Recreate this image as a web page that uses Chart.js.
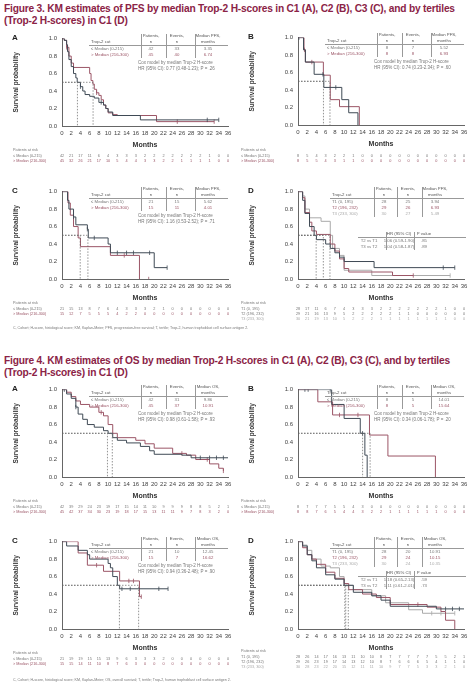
<!DOCTYPE html>
<html><head><meta charset="utf-8">
<script src="https://cdn.jsdelivr.net/npm/chart.js@4/dist/chart.umd.min.js"></script>
<style>
body{margin:0;width:474px;height:685px;position:relative;background:#fff;font-family:Arial,"Liberation Sans",sans-serif;overflow:hidden}
.t{position:absolute;white-space:nowrap;line-height:1}
canvas{position:absolute}
.ln{position:absolute;background:#999}
</style></head><body>
<script>
const DARK='#3f4a55', MAR='#9b5566', LIGHT='#aaaaaa', TXT='#777';
const ticksX=[0,2,4,6,8,10,12,14,16,18,20,22,24,26,28,30,32,34,36];

// ---- Figure 3 (PFS) ----
const f3a_lo_t=[0.5,1,1.2,1.5,2,2.5,3,3.3,4,4.5,5,6,7,8,9,9.5,10,11,17,34];
const f3a_lo_s=[0.98,0.93,0.85,0.76,0.68,0.6,0.55,0.5,0.45,0.4,0.36,0.34,0.32,0.27,0.24,0.2,0.16,0.12,0.07,0.07];
const f3a_lo_c=[4,8.5,31.5,34];
const f3a_hi_t=[0.5,1,1.5,2,2.5,6,6.3,6.7,7,7.5,8,8.5,9,9.5,10,11,12,20.5,33];
const f3a_hi_s=[0.98,0.9,0.8,0.72,0.67,0.6,0.52,0.48,0.42,0.38,0.35,0.3,0.24,0.2,0.15,0.13,0.12,0.05,0.05];
const f3a_hi_c=[1,7.5,25,33];
const f3a_risk_lo=[42,21,17,11,6,4,3,3,3,2,2,2,2,2,2,2,1,0,0];
const f3a_risk_hi=[45,32,26,21,17,10,5,4,4,3,3,2,2,1,1,1,1,0,0];

const f3b_lo_t=[1.2,1.6,3.5,5.6,9.5,11,13];
const f3b_lo_s=[0.86,0.72,0.58,0.43,0.29,0.14,0];
const f3b_lo_c=[0.2,5.4,8.2];
const f3b_hi_t=[1.3,1.6,5.5,7,9,13.3];
const f3b_hi_s=[0.86,0.72,0.57,0.29,0.21,0];
const f3b_hi_c=[1.4,3];
const f3b_risk_lo=[8,5,4,3,2,2,1,0,0,0,0,0,0,0,0,0,0,0,0];
const f3b_risk_hi=[8,5,5,4,3,1,1,0,0,0,0,0,0,0,0,0,0,0,0];

const f3c_lo_t=[1.2,1.5,2.5,3,5.5,5.7,10,10.5,20,22.8];
const f3c_lo_s=[0.9,0.8,0.71,0.62,0.57,0.47,0.4,0.3,0.13,0.13];
const f3c_lo_c=[2.5,5.5,7,12,14,15.5,19,22.8];
const f3c_hi_t=[1.3,1.8,2.5,3.5,4,10.5,16.8];
const f3c_hi_s=[0.87,0.73,0.6,0.47,0.37,0.27,0];
const f3c_hi_c=[13.5,18.8];
const f3c_risk_lo=[21,15,13,8,7,6,4,3,3,3,2,1,0,0,0,0,0,0,0];
const f3c_risk_hi=[15,12,7,5,5,5,4,2,2,0,0,0,0,0,0,0,0,0,0];

const f3d_t1_t=[1,1.5,2.5,3.5,4,6,7,8,9,10,16.5,34];
const f3d_t1_s=[0.9,0.75,0.6,0.5,0.45,0.4,0.35,0.3,0.25,0.2,0.13,0.13];
const f3d_t1_c=[31.5,34];
const f3d_t2_t=[1,1.5,2.5,3,4,7,8,9,10,11,20.5,25];
const f3d_t2_s=[0.93,0.76,0.65,0.55,0.51,0.4,0.32,0.23,0.12,0.08,0.04,0.04];
const f3d_t2_c=[25];
const f3d_t3_t=[1,1.5,2.5,5,7,7.5,9,10,16,33];
const f3d_t3_s=[0.95,0.8,0.7,0.66,0.5,0.35,0.27,0.1,0.04,0.04];
const f3d_t3_c=[33];
const f3d_risk_t1=[28,17,11,6,7,4,3,3,3,2,2,2,2,2,2,2,1,0,0];
const f3d_risk_t2=[29,21,16,13,9,5,2,2,2,2,2,1,1,0,0,0,0,0,0];
const f3d_risk_t3=[30,21,19,13,10,5,2,2,2,1,1,1,1,1,1,1,1,0,0];

// ---- Figure 4 (OS) ----
const f4a_lo_t=[1,2,3,3.5,4.5,5.5,7,9,10,11,12,14,17,19,20,26,28,36.5];
const f4a_lo_s=[0.95,0.9,0.8,0.72,0.66,0.6,0.57,0.53,0.5,0.45,0.42,0.39,0.35,0.3,0.26,0.25,0.22,0.22];
const f4a_lo_c=[0.5,3,30,32,33.5,35,36.5];
const f4a_hi_t=[1,2,3,4,6,8,9,10,11,12,16,18,20,24,27,29,32,34,35];
const f4a_hi_s=[0.97,0.92,0.87,0.83,0.8,0.74,0.7,0.6,0.5,0.45,0.42,0.38,0.33,0.27,0.25,0.2,0.15,0.1,0.07];
const f4a_hi_c=[8.5,26,31.5,35];
const f4a_risk_lo=[42,39,29,24,23,19,17,15,14,11,10,9,9,9,8,8,5,2,1];
const f4a_risk_hi=[45,42,37,34,30,23,19,18,17,15,13,11,11,9,7,8,3,2,0];

const f4b_lo_t=[7.3,10,13.5,14.5,15];
const f4b_lo_s=[0.83,0.67,0.5,0.25,0];
const f4b_lo_c=[1.5,2.2,7,14];
const f4b_hi_t=[4.3,7.5,15.5,19.5,29.8];
const f4b_hi_s=[0.86,0.71,0.48,0.24,0];
const f4b_hi_c=[9,13];
const f4b_risk_lo=[8,7,7,7,5,5,4,3,0,0,0,0,0,0,0,0,0,0,0];
const f4b_risk_hi=[8,8,7,6,5,4,4,3,2,2,1,1,1,1,1,1,0,0,0];

const f4c_lo_t=[1,3.5,5.5,6,10,10.5,11,12,12.5,23];
const f4c_lo_s=[0.95,0.9,0.85,0.8,0.75,0.7,0.6,0.5,0.46,0.46];
const f4c_lo_c=[13,14.8,21,23];
const f4c_hi_t=[3.5,5.5,9,12.5,16.8,17.2];
const f4c_hi_s=[0.87,0.73,0.66,0.55,0.37,0.37];
const f4c_hi_c=[7.5,14.5,15.5,17.2];
const f4c_risk_lo=[21,19,19,15,15,13,9,6,3,3,3,2,0,0,0,0,0,0,0];
const f4c_risk_hi=[15,15,14,11,10,8,7,6,3,0,0,0,0,0,0,0,0,0,0];

const f4d_t1_t=[1,2,3,4,6,8,10,12,16,18,20,30,36.5];
const f4d_t1_s=[0.95,0.85,0.78,0.7,0.62,0.57,0.5,0.42,0.38,0.33,0.26,0.23,0.23];
const f4d_t1_c=[32,33.5,35,36.5];
const f4d_t2_t=[1,2,3,4,6,8,10,11,14,17,20,28,31,32,34];
const f4d_t2_s=[0.93,0.85,0.8,0.74,0.65,0.58,0.52,0.45,0.4,0.36,0.28,0.25,0.2,0.1,0];
const f4d_t2_c=[26];
const f4d_t3_t=[1,2,3,5,7,9,10,12,16,19,24,27,34];
const f4d_t3_s=[0.96,0.9,0.8,0.72,0.7,0.6,0.5,0.45,0.38,0.3,0.22,0.18,0.18];
const f4d_t3_c=[29,31,34];
const f4d_risk_t1=[28,26,14,17,16,13,11,10,10,8,7,7,7,7,7,5,5,2,1];
const f4d_risk_t2=[29,26,23,19,17,14,13,12,10,8,7,6,6,6,5,4,1,1,0];
const f4d_risk_t3=[30,28,23,22,20,15,12,11,11,10,9,7,7,5,3,3,2,1,0];

// ---- helpers ----
function T(x,y,s,txt,o){o=o||{};const d=document.createElement('div');d.className='t';d.textContent=txt;
 d.style.left=x+'px';d.style.top=y+'px';d.style.fontSize=s+'px';d.style.color=o.c||TXT;
 if(o.b)d.style.fontWeight='bold';if(o.ls)d.style.letterSpacing=o.ls;
 if(o.al==='c')d.style.transform='translateX(-50%)';if(o.al==='r')d.style.transform='translateX(-100%)';
 document.body.appendChild(d);return d;}
function L(x,y,w,h){const d=document.createElement('div');d.className='ln';d.style.left=x+'px';d.style.top=y+'px';d.style.width=w+'px';d.style.height=h+'px';document.body.appendChild(d);}
function survAt(t,ts,ss){let s=1;for(let i=0;i<ts.length;i++){if(ts[i]<=t)s=ss[i];}return s;}

function panel(p){
 const px=p.px, yTop=p.yTop;
 const cv=document.createElement('canvas');
 cv.style.left=(px+12)+'px';cv.style.top=(yTop-5)+'px';
 cv.style.width='222px';cv.style.height='116px';
 document.body.appendChild(cv);
 const ds=[];
 p.medians.forEach(m=>ds.push({data:[{x:0,y:0.5},{x:m,y:0.5},{x:m,y:0}],borderColor:'#666',borderWidth:0.7,borderDash:[1.5,1.5],pointRadius:0,fill:false}));
 p.curves.forEach(c=>{
  ds.push({data:[{x:0,y:1}].concat(c.t.map((t,i)=>({x:t,y:c.s[i]}))),stepped:true,borderColor:c.color,borderWidth:1,pointRadius:0,fill:false});
  ds.push({type:'scatter',data:c.c.map(t=>({x:t,y:survAt(t,c.t,c.s)})),showLine:false,pointStyle:'line',rotation:90,radius:2.2,borderColor:c.color,borderWidth:0.8});
 });
 const riskPlugin={id:'risk'+px+yTop,afterRender(ch){
  if(ch._done)return;ch._done=true;
  const xs=ch.scales.x; const lx=px+(px?5:13);
  T(lx,p.riskY,3.8,'Patients at risk');
  const step=p.risk.length>2?5:5.5;
  p.risk.forEach((r,j)=>{
   T(lx,p.riskY+5.5+j*step,3.8,r.label,{c:r.lc||TXT});
   r.v.forEach((v,i)=>T(px+12+xs.getPixelForValue(ticksX[i]),p.riskY+5.5+j*step,3.8,String(v),{al:'c',c:r.lc||TXT}));
  });
 }};
 new Chart(cv,{type:'line',data:{datasets:ds},plugins:[riskPlugin],
  options:{responsive:false,animation:false,events:[],
   layout:{padding:{top:5,right:6,left:0,bottom:0}},
   plugins:{legend:{display:false},tooltip:{enabled:false}},
   scales:{
    x:{type:'linear',min:0,max:36,afterBuildTicks:s=>{s.ticks=ticksX.map(v=>({value:v}));},
     grid:{display:false,drawTicks:true,tickLength:3,color:'#666'},border:{color:'#666'},
     ticks:{font:{size:6,family:'Arial'},color:'#444',padding:1,maxRotation:0,autoSkip:false},
     title:{display:true,text:'Months',font:{size:7,weight:'bold',family:'Arial'},color:'#333',padding:{top:1,bottom:0}},
     afterFit:s=>{s.height=23;}},
    y:{min:0,max:1,afterBuildTicks:s=>{s.ticks=[0,.1,.2,.3,.4,.5,.6,.7,.8,.9,1].map(v=>({value:v}));},
     grid:{display:false,drawTicks:true,tickLength:3,color:'#666'},border:{color:'#666'},
     ticks:{font:{size:6,family:'Arial'},color:'#444',padding:2,callback:v=>Number(v).toFixed(1)},
     title:{display:true,text:'Survival probability',font:{size:6.5,weight:'bold',family:'Arial'},color:'#333',padding:{top:0,bottom:4}},
     afterFit:s=>{s.width=50;}}
   }}});
 T(px+12,yTop-4,8,p.letter,{b:1,c:'#222'});
 const tx=px+(p.tri?96:91), cx=[px+(p.tri?148:151),px+(p.tri?172:177),px+(p.tri?199:208)];
 const hdr=[['Patients,','n'],['Events,','n'],[p.metric,'months']];
 T(tx,yTop+2,4.3,'Trop-2 cut',{c:'#555'});
 hdr.forEach((h,i)=>{T(cx[i],yTop-4,4.3,h[0],{al:'c',c:'#555'});T(cx[i],yTop+1.5,4.3,h[1],{al:'c',c:'#555'});});
 L(tx-2,yTop+7,px+230-tx,0.5);
 [cx[0]-10,cx[1]-11,cx[2]-13].forEach(x=>L(x,yTop-4,0.5,p.rows.length*6+12));
 p.rows.forEach((r,j)=>{const y=yTop+9+j*6;T(tx,y,4.3,r[0],{c:r[4]||TXT});
  [r[1],r[2],r[3]].forEach((v,i)=>T(cx[i],y,4.3,v,{al:'c',c:r[4]||TXT}));});
 if(p.cox){T(px+138,yTop+23,4.5,p.cox[0]);T(px+138,yTop+29,4.5,p.cox[1]);}
 if(p.hr){const hy=yTop+p.hrY;
  T(px+163,hy,4.3,'HR (95% CI)',{al:'c',c:'#555'});T(px+188,hy,4.3,'P value',{al:'c',c:'#555'});
  L(px+122,hy+5,108,0.5);L(px+150,hy,0.5,18);L(px+178,hy,0.5,18);
  p.hr.forEach((r,j)=>{const y=hy+7+j*6;T(px+133,y,4.3,r[0],{al:'c'});T(px+163,y,4.3,r[1],{al:'c'});T(px+188,y,4.3,r[2],{al:'c'});});}
}
function two(lo_t,lo_s,lo_c,hi_t,hi_s,hi_c){return [{t:lo_t,s:lo_s,c:lo_c,color:DARK},{t:hi_t,s:hi_s,c:hi_c,color:MAR}];}
function three(a,b,c){return [{t:a[0],s:a[1],c:a[2],color:DARK},{t:b[0],s:b[1],c:b[2],color:MAR},{t:c[0],s:c[1],c:c[2],color:LIGHT}];}
const LO='≤ Median (0-215)', HI='> Median (216-300)';
const riskTri=(a,b,c)=>[{label:'T1 (0, 195)',v:a},{label:'T2 (196, 232)',v:b},{label:'T3 (233, 300)',v:c,lc:LIGHT}];
const rowsTri=(m1,m2,m3,e)=>[['T1 (0, 195)','28',e[0],m1],['T2 (196, 232)','29',e[1],m2,MAR],['T3 (233, 300)','30',e[2],m3,LIGHT]];

const TC='#8b2346';
T(4,4,10.2,'Figure 3. KM estimates of PFS by median Trop-2 H-scores in C1 (A), C2 (B), C3 (C), and by tertiles',{b:1,c:TC,ls:'-0.2px'});
T(4,16,10.2,'(Trop-2 H-scores) in C1 (D)',{b:1,c:TC,ls:'-0.2px'});
T(4,356,10.2,'Figure 4. KM estimates of OS by median Trop-2 H-scores in C1 (A), C2 (B), C3 (C), and by tertiles',{b:1,c:TC,ls:'-0.2px'});
T(4,368,10.2,'(Trop-2 H-scores) in C1 (D)',{b:1,c:TC,ls:'-0.2px'});

panel({px:0,yTop:38,letter:'A',metric:'Median PFS,',medians:[3.35,6.74],curves:two(f3a_lo_t,f3a_lo_s,f3a_lo_c,f3a_hi_t,f3a_hi_s,f3a_hi_c),
 rows:[[LO,'42','33','3.35'],[HI,'45','40','6.74',MAR]],cox:['Cox model by median Trop-2 H-score','HR (95% CI): 0.77 (0.48-1.23); P = .26'],
 riskY:149,risk:[{label:LO,v:f3a_risk_lo},{label:HI,v:f3a_risk_hi,lc:MAR}]});
panel({px:236,yTop:37,letter:'B',metric:'Median PFS,',medians:[5.52,6.93],curves:two(f3b_lo_t,f3b_lo_s,f3b_lo_c,f3b_hi_t,f3b_hi_s,f3b_hi_c),
 rows:[[LO,'8','7','5.52'],[HI,'8','8','6.93',MAR]],cox:['Cox model by median Trop-2 H-score','HR (95% CI): 0.74 (0.23-2.34); P = .60'],
 riskY:149,risk:[{label:LO,v:f3b_risk_lo},{label:HI,v:f3b_risk_hi,lc:MAR}]});
panel({px:0,yTop:191,letter:'C',metric:'Median PFS,',medians:[3.95,5.62],curves:two(f3c_lo_t,f3c_lo_s,f3c_lo_c,f3c_hi_t,f3c_hi_s,f3c_hi_c),
 rows:[[LO,'21','15','5.62'],[HI,'15','11','4.01',MAR]],cox:['Cox model by median Trop-2 H-score','HR (95% CI): 1.16 (0.53-2.52); P = .71'],
 riskY:302,risk:[{label:LO,v:f3c_risk_lo},{label:HI,v:f3c_risk_hi,lc:MAR}]});
panel({px:236,yTop:191,letter:'D',tri:1,metric:'Median PFS,',medians:[3.94,5.49,6.93],
 curves:three([f3d_t1_t,f3d_t1_s,f3d_t1_c],[f3d_t2_t,f3d_t2_s,f3d_t2_c],[f3d_t3_t,f3d_t3_s,f3d_t3_c]),
 rows:rowsTri('3.94','6.93','5.49',['25','26','27']),hrY:41,hr:[['T2 vs T1','1.06 (0.59-1.90)','.85'],['T3 vs T2','1.04 (0.58-1.87)','.89']],
 riskY:302,risk:riskTri(f3d_risk_t1,f3d_risk_t2,f3d_risk_t3)});
T(13,327,3.6,'C, Cohort; H-score, histological score; KM, Kaplan-Meier; PFS, progression-free survival; T, tertile; Trop-2, human trophoblast cell surface antigen 2.');

panel({px:0,yTop:389,letter:'A',metric:'Median OS,',medians:[9.86,10.91],curves:two(f4a_lo_t,f4a_lo_s,f4a_lo_c,f4a_hi_t,f4a_hi_s,f4a_hi_c),
 rows:[[LO,'42','31','9.86'],[HI,'45','37','10.91',MAR]],cox:['Cox model by median Trop-2 H-score','HR (95% CI): 0.98 (0.61-1.58); P = .93'],
 riskY:500,risk:[{label:LO,v:f4a_risk_lo},{label:HI,v:f4a_risk_hi,lc:MAR}]});
panel({px:236,yTop:389,letter:'B',metric:'Median OS,',medians:[14.01,15.64],curves:two(f4b_lo_t,f4b_lo_s,f4b_lo_c,f4b_hi_t,f4b_hi_s,f4b_hi_c),
 rows:[[LO,'8','5','14.01'],[HI,'8','5','15.64',MAR]],cox:['Cox model by median Trop-2 H-score','HR (95% CI): 0.34 (0.06-1.78); P = .20'],
 riskY:500,risk:[{label:LO,v:f4b_risk_lo},{label:HI,v:f4b_risk_hi,lc:MAR}]});
panel({px:0,yTop:541,letter:'C',metric:'Median OS,',medians:[12.45,16.62],curves:two(f4c_lo_t,f4c_lo_s,f4c_lo_c,f4c_hi_t,f4c_hi_s,f4c_hi_c),
 rows:[[LO,'21','10','12.45'],[HI,'15','7','16.62',MAR]],cox:['Cox model by median Trop-2 H-score','HR (95% CI): 0.94 (0.36-2.48); P = .90'],
 riskY:652,risk:[{label:LO,v:f4c_risk_lo},{label:HI,v:f4c_risk_hi,lc:MAR}]});
panel({px:236,yTop:541,letter:'D',tri:1,metric:'Median OS,',medians:[10.15,10.35,10.91],
 curves:three([f4d_t1_t,f4d_t1_s,f4d_t1_c],[f4d_t2_t,f4d_t2_s,f4d_t2_c],[f4d_t3_t,f4d_t3_s,f4d_t3_c]),
 rows:rowsTri('10.91','10.15','10.35',['20','24','24']),hrY:30,hr:[['T2 vs T1','1.18 (0.65-2.13)','.59'],['T3 vs T2','1.11 (0.61-2.01)','.73']],
 riskY:650,risk:riskTri(f4d_risk_t1,f4d_risk_t2,f4d_risk_t3)});
T(13,679,3.6,'C, Cohort; H-score, histological score; KM, Kaplan-Meier; OS, overall survival; T, tertile; Trop-2, human trophoblast cell surface antigen 2.');
</script>
</body></html>
